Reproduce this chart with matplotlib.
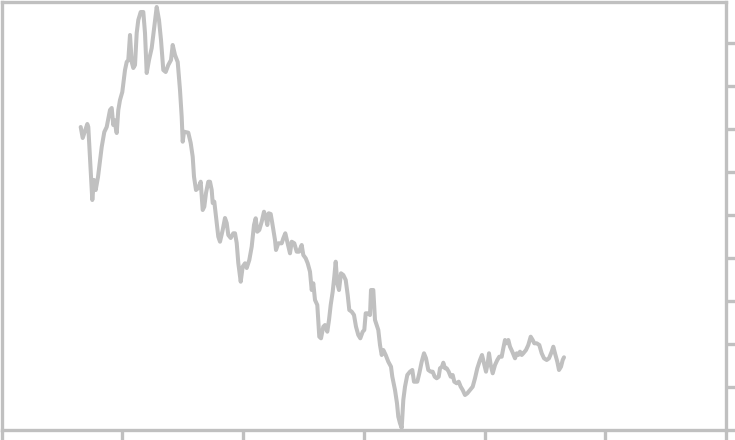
import matplotlib
matplotlib.use("Agg")
import matplotlib.pyplot as plt
import numpy as np

# x positions (time axis) and series values
x = [80.7, 82.7, 87.3, 88.3, 92.3, 94, 95.7, 98, 101.7, 104.3, 106.7, 110, 111.7, 113.3, 114.3, 116.7,
     118.3, 120, 122.3, 125, 126.7, 128.3, 130, 131.7, 133.3, 135, 136.7, 138.3, 140.7, 143.3, 145,
     146.7, 149, 151.7, 154.3, 156.7, 159, 161, 163.3, 165.7, 168.3, 171, 172.7, 175, 177.7, 180, 181.7,
     182.7, 184, 188.3, 190.7, 192.7, 194, 196, 198.3, 200.7, 202.7, 204.3, 206, 208.3, 210, 211.7,
     212.7, 214.3, 216, 218.3, 220, 222.7, 225, 226.7, 228.3, 230.7, 233.3, 235, 236.7, 238.3, 240.7,
     242.7, 245, 246.7, 249.3, 251.7, 254, 255.7, 257.3, 259.3, 261.7, 264, 266, 267.3, 268.7, 270.7,
     272.3, 275, 276, 278.3, 281.7, 283.3, 285.3, 287.3,
     290, 291.7, 294.3, 296.7, 299, 301.7, 303.3, 305.7, 307.7, 310, 311.7, 313.3, 315, 317.3, 319.3,
     321, 323.3, 325, 327.3, 329, 330.7, 332.7, 334.3, 335.7, 337.3, 339, 341, 343.3, 345.7, 347.7,
     349.3, 351.7, 354, 356, 358.3, 360.3, 362.7, 364.3, 365.7, 367.7, 370, 371, 373.3, 375, 376.7,
     378.3, 380, 381.7, 383.3, 385.7, 388.3, 391, 392.3, 395, 397, 398.3, 400, 401.7, 403.3,
     405, 407.3, 410, 412.3, 414, 417.3, 419.3, 421.7, 424, 426, 428.3, 430.7, 432.7, 434.7, 436.7,
     438.7, 440, 442, 443.3, 445, 446.7, 448.7, 450.7, 452.7, 454.3, 456.7, 458.7, 460.7, 462.7, 465,
     467.3, 470, 472.7, 475, 477.3, 480, 482, 484, 486, 487.7, 489, 490.7, 492.7, 495, 497.3, 499.3,
     501.7, 503.3, 505, 506.7, 508.3, 510, 512.3, 515, 516.7, 518.3, 520, 521.7, 523.3, 526, 528.3,
     530.7, 532.7, 534.3, 536.7, 539.3, 541.7, 544, 546.7, 549, 551.7, 553.3, 555, 557.3, 559, 561,
     562.7, 564]

y = [303, 292, 306, 303, 230, 250, 240, 253, 283, 298, 303, 320, 322, 305, 310, 297,
     320, 330, 338, 360, 368, 370, 395, 368, 362, 365, 397, 410, 418, 418, 397,
     357, 370, 382, 403, 423, 410, 390, 360, 358, 365, 370, 385, 375, 368, 340, 313,
     288.3, 298.3, 297.3, 287, 273.3, 253.3, 240, 242, 248.3, 220, 223.3, 237, 248.3, 248.3, 240,
     227, 228.3, 213.3, 193.3, 188.3, 200, 212, 207, 195, 192, 196.7, 196.7, 187, 167, 148.3,
     163.3, 166.7, 162, 170, 183.3, 205, 211.7, 198.3, 200, 208.3, 218.3, 211.7, 205, 216.7, 216,
     206.7, 190, 180, 186.7, 186.7, 191.7, 196.7, 188.3,
     176.7, 188.3, 186.7, 178.3, 178.3, 185, 175, 171.7, 166.7, 158.3, 140, 146.7, 130, 125, 93.3,
     91.7, 103.3, 105, 98.3, 110, 125, 138.3, 153.3, 168.3, 146.7, 140, 156.7, 155, 150, 135,
     120, 118.3, 115, 103.3, 95, 91.7, 98.3, 100, 116.7, 116.7, 115, 140, 140, 110, 105,
     100, 85, 75, 80, 75, 68.3, 63.3, 53.3, 40, 26.7, 13.3, 6.7, 2, 30,
     43.3, 55, 58.3, 60, 48.3, 48.3, 56.7, 68.3, 76.7, 71.7, 60, 58.3, 58.3, 53.3, 51.7,
     53.3, 61.7, 63.3, 67.3, 61.7, 61.7, 58.3, 53.3, 55, 48.3, 46.7, 48.3, 43.3, 40, 35,
     36.7, 40, 43.3, 51.7, 61.7, 70, 75, 66.7, 58.3, 66.7, 76.7, 65, 56.7, 65, 70, 73.3,
     73.3, 81.7, 90, 86.7, 90, 83.3, 78.3, 71.7, 76.7, 75, 78.3, 75, 76.7, 80, 85,
     93.3, 90, 86.7, 86.7, 85, 76.7, 71.7, 70, 71.7, 78.3, 83.3, 76.7, 68.3, 60, 63.3,
     70, 72.7]

GRAY = "#c0c0c0"

fig = plt.figure(figsize=(7.35, 4.4), dpi=100)
W, H = 735.0, 440.0
left, right, top, bottom = 1.7, 726.0, 1.7, 430.0
ax = fig.add_axes([left / W, (H - bottom) / H, (right - left) / W, (bottom - top) / H])

ax.plot(x, y, color=GRAY, linewidth=2.9, solid_joinstyle="round", solid_capstyle="round")

ax.set_xlim(left, right)
ax.set_ylim(0, bottom - top)

xstep = (right - left) / 6
ax.set_xticks([left + xstep * k for k in range(7)])
ystep = 43.05
ax.set_yticks([ystep * k for k in range(10)])

ax.tick_params(axis="x", direction="out", length=12, width=2.4, color=GRAY,
               bottom=True, top=False, labelbottom=False)
ax.tick_params(axis="y", direction="out", length=12, width=2.4, color=GRAY,
               left=False, right=True, labelleft=False, labelright=False)

for s in ax.spines.values():
    s.set_color(GRAY)
    s.set_linewidth(2.4)

ax.patch.set_facecolor("white")
fig.patch.set_facecolor("white")
for t in ax.get_xticklines() + ax.get_yticklines():
    t.set_clip_on(False)

fig.savefig("out.png", dpi=100)
